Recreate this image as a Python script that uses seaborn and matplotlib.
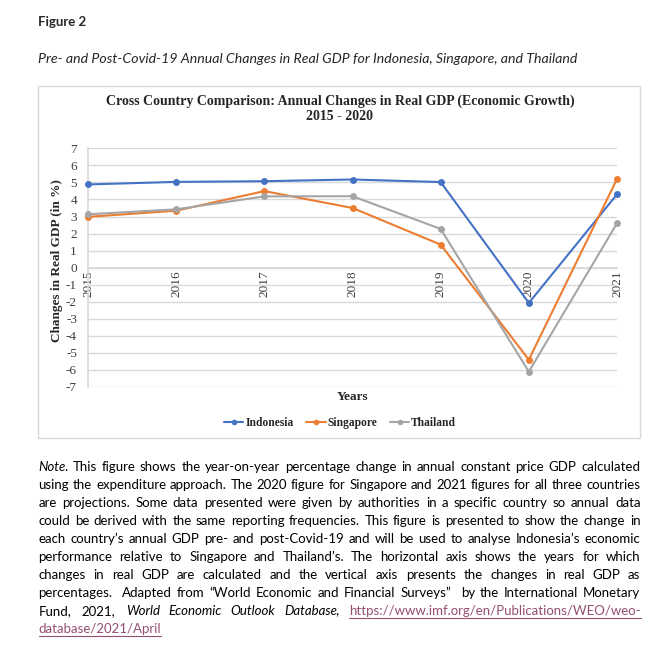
import re
import numpy as np
import pandas as pd
import seaborn as sns
import matplotlib.pyplot as plt
from matplotlib.lines import Line2D
from matplotlib.patches import Rectangle

# valores (variacion % del PIB real)
years = [2015, 2016, 2017, 2018, 2019, 2020, 2021]
indonesia = [4.88, 5.03, 5.07, 5.17, 5.02, -2.07, 4.30]
singapore = [2.98, 3.34, 4.49, 3.50, 1.35, -5.40, 5.20]
thailand = [3.13, 3.42, 4.18, 4.19, 2.27, -6.10, 2.60]
countries = ["Indonesia", "Singapore", "Thailand"]
colors = ["#4472C4", "#ED7D31", "#A5A5A5"]
y_ticks = list(range(-7, 8))

titulo = "Cross Country Comparison: Annual Changes in Real GDP (Economic Growth)"
subtitulo = "2015 - 2020"

note_lines = [
    "*Note*. This figure shows the year-on-year percentage change in annual constant price GDP calculated",
    "using the expenditure approach. The 2020 figure for Singapore and 2021 figures for all three countries",
    "are projections. Some data presented were given by authorities in a specific country so annual data",
    "could be derived with the same reporting frequencies. This figure is presented to show the change in",
    "each country\u2019s annual GDP pre- and post-Covid-19 and will be used to analyse Indonesia\u2019s economic",
    "performance relative to Singapore and Thailand\u2019s. The horizontal axis shows the years for which",
    "changes in real GDP are calculated and the vertical axis presents the changes in real GDP as",
    "percentages.  Adapted from \u201cWorld Economic and Financial Surveys\u201d  by the International Monetary",
    "Fund, 2021, *World* *Economic* *Outlook* *Database*, ~https://www.imf.org/en/Publications/WEO/weo-",
    "~database/2021/April",
]

df = pd.DataFrame({
    "Year": years * 3,
    "Change": indonesia + singapore + thailand,
    "Country": np.repeat(countries, len(years)),
})

sns.set_theme(style="white")
plt.rcParams["font.family"] = ["Liberation Serif", "DejaVu Serif"]

W, H = 657, 656
fig = plt.figure(figsize=(W / 100, H / 100), dpi=100)


def fx(x):
    return x / W


def fy(y):
    return 1 - y / H


# marco del grafico
fig.add_artist(Rectangle((fx(38), fy(438)), (640 - 38) / W, (438 - 86) / H,
                         transform=fig.transFigure, fill=False,
                         edgecolor="#D9D9D9", lw=1))

ax = fig.add_axes([fx(88), fy(387), (617 - 88) / W, (387 - 148.3) / H])
ax.set_facecolor("none")
sns.lineplot(data=df, x="Year", y="Change", hue="Country", palette=colors,
             marker="o", markersize=5, markeredgewidth=0, linewidth=1.5,
             ax=ax, legend=False)
for ln in ax.lines:
    ln.set_clip_on(False)
    ln.set_zorder(3)

ax.set_xlim(2015, 2021)
ax.set_ylim(-7, 7)
ax.set_xticks(years)
ax.set_xticklabels([str(y) for y in years])
ax.set_yticks(y_ticks)
ax.set_yticklabels([str(t) for t in y_ticks])
ax.yaxis.grid(True, color="#D9D9D9", lw=1)
ax.xaxis.grid(False)
ax.set_axisbelow(True)
for s in ["top", "right"]:
    ax.spines[s].set_visible(False)
ax.spines["left"].set_color("#D9D9D9")
ax.spines["bottom"].set_color("#D9D9D9")
ax.spines["bottom"].set_position(("data", 0))
ax.tick_params(axis="x", length=0, pad=2, labelrotation=90, labelsize=9.5, labelcolor="#404040")
ax.tick_params(axis="y", length=0, pad=8, labelsize=9.5, labelcolor="#404040")
ax.set_xlabel("")
ax.set_ylabel("")

fig.text(fx(340), fy(101), titulo, ha="center", va="center", fontsize=10, fontweight="bold")
fig.text(fx(340), fy(117), subtitulo, ha="center", va="center", fontsize=10, fontweight="bold")
fig.text(fx(57), fy(261), "Changes in Real GDP (in %)", rotation=90, ha="center", va="center",
         fontsize=9.5, fontweight="bold")
fig.text(fx(352.5), fy(397), "Years", ha="center", va="center", fontsize=9.5, fontweight="bold")

handles = [Line2D([], [], color=c, marker="o", markersize=4, markeredgewidth=0, lw=1.5) for c in colors]
fig.legend(handles, countries, loc="center", bbox_to_anchor=(fx(340), fy(423)), ncol=3,
           frameon=False, prop={"family": "Liberation Serif", "weight": "bold", "size": 8.3},
           handlelength=1.7, handletextpad=0.15, columnspacing=1.1)

# texto del documento (Calibri no esta, se usa Lato)
doc_font = ["Lato", "DejaVu Sans"]
renderer = fig.canvas.get_renderer()


def medir(s, size, style):
    t = fig.text(0, 0, s, family=doc_font, fontsize=size, style=style)
    w = t.get_window_extent(renderer).width
    t.remove()
    # la caja de la cursiva incluye la inclinacion, se descuenta un poco
    if style == "italic":
        w -= 1.5
    return w


def partes(palabra):
    # devuelve lista de (texto, estilo) para una palabra
    if palabra.startswith("~"):
        return [(palabra[1:], "link")]
    out = []
    for seg in re.split(r"(\*[^*]+\*)", palabra):
        if not seg:
            continue
        if seg.startswith("*"):
            out.append((seg[1:-1], "italic"))
        else:
            out.append((seg, "normal"))
    return out


left, right = 38.5, 640.5
# tamaño de letra: lo mas grande posible sin que las lineas se pasen del ancho
natural = max(medir(l.replace("*", "").replace("~", ""), 10, "normal") for l in note_lines)
note_size = min(10.3, 10 * (right - left - 4) / natural)

fig.text(fx(38), fy(22), "Figure 2", ha="left", va="center", family=doc_font,
         fontweight="bold", fontsize=note_size)
fig.text(fx(38), fy(59), "Pre- and Post-Covid-19 Annual Changes in Real GDP for Indonesia, Singapore, and Thailand",
         ha="left", va="center", family=doc_font, style="italic", fontsize=10.2)

base0 = 471
step = 18
space_w = medir("a a", note_size, "normal") - medir("aa", note_size, "normal")

for i, linea in enumerate(note_lines):
    palabras = linea.split(" ")
    segs = [partes(p) for p in palabras]
    anchos = [sum(medir(t, note_size, "italic" if st == "italic" else "normal") for t, st in sg)
              for sg in segs]
    if i < len(note_lines) - 1 and len(palabras) > 1:
        gap = (right - left - sum(anchos)) / (len(palabras) - 1)
    else:
        gap = space_w
    x = left
    yb = base0 + i * step
    for sg, aw in zip(segs, anchos):
        for t, st in sg:
            color = "#954F72" if st == "link" else "black"
            estilo = "italic" if st == "italic" else "normal"
            fig.text(fx(x), fy(yb), t, ha="left", va="baseline", family=doc_font,
                     fontsize=note_size, style=estilo, color=color)
            w = medir(t, note_size, estilo)
            if st == "link":
                fig.add_artist(Line2D([fx(x), fx(x + w)], [fy(yb + 2.5), fy(yb + 2.5)],
                                      transform=fig.transFigure, color=color, lw=0.8))
            x += w
        x += gap

fig.savefig("out.png", dpi=100)
